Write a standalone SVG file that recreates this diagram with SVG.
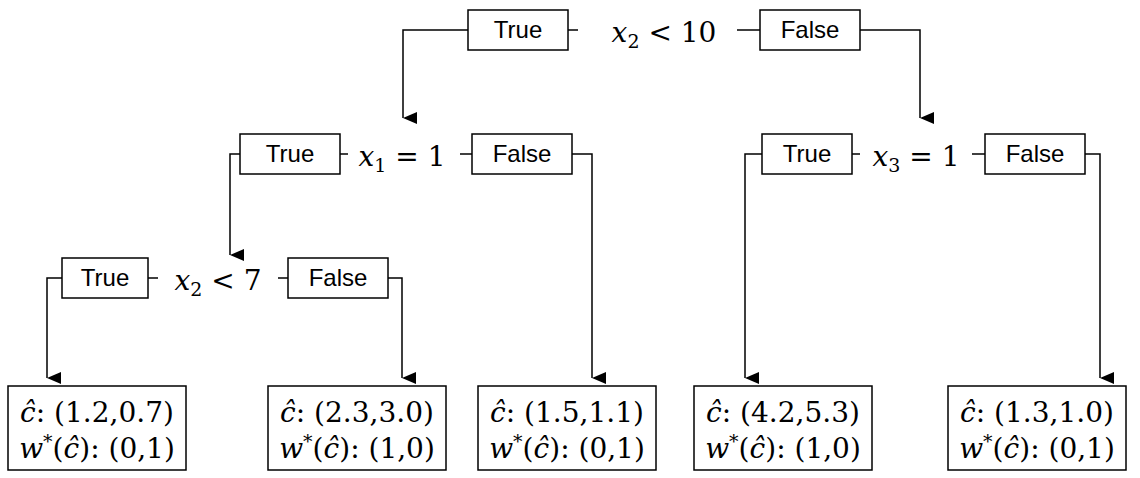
<svg xmlns="http://www.w3.org/2000/svg" width="1140" height="478" viewBox="0 0 1140 478">
<defs><marker id="ah" markerWidth="12" markerHeight="14" refX="6" refY="14" orient="auto-start-reverse" markerUnits="userSpaceOnUse" viewBox="0 0 12 14"><path d="M0,0 L12,0 L6,14 Z" fill="#000"/></marker>
<style>
.b{fill:#fff;stroke:#000;stroke-width:1.5}
.l{font-family:"Liberation Sans",Arial,sans-serif;font-size:24px;text-anchor:middle}
.m{font-family:"DejaVu Serif","Liberation Serif",serif;font-size:28px;text-anchor:middle}
.c{fill:none;stroke:#000;stroke-width:1.5}
i{font-style:italic}
</style></defs>
<rect width="1140" height="478" fill="#fff"/>
<g id="connectors" class="c">
<path d="M468,30 H403 V118" marker-end="url(#ah)"/>
<path d="M568,30 H578"/>
<path d="M737,30 H760"/>
<path d="M860,30 H920 V118" marker-end="url(#ah)"/>
<path d="M240,154 H230 V255" marker-end="url(#ah)"/>
<path d="M340,154 H348"/>
<path d="M460,154 H472"/>
<path d="M572,154 H592 V378" marker-end="url(#ah)"/>
<path d="M762,154 H745 V378" marker-end="url(#ah)"/>
<path d="M852,154 H860"/>
<path d="M972,154 H985"/>
<path d="M1085,154 H1100 V378" marker-end="url(#ah)"/>
<path d="M62,278 H47 V378" marker-end="url(#ah)"/>
<path d="M148,278 H158"/>
<path d="M278,278 H288"/>
<path d="M388,278 H402 V378" marker-end="url(#ah)"/>
</g>
<g id="n1"><rect class="b" x="468" y="10" width="100" height="40"/><text class="l" x="518" y="38">True</text>
<text class="m" x="664" y="42"><tspan font-style="italic">x</tspan><tspan font-size="19" dy="6">2</tspan><tspan dy="-6"> &lt; 10</tspan></text>
<rect class="b" x="760" y="10" width="100" height="40"/><text class="l" x="810" y="38">False</text></g>
<g id="n2"><rect class="b" x="240" y="134" width="100" height="40"/><text class="l" x="290" y="162">True</text>
<text class="m" x="402" y="166"><tspan font-style="italic">x</tspan><tspan font-size="19" dy="6">1</tspan><tspan dy="-6"> = 1</tspan></text>
<rect class="b" x="472" y="134" width="100" height="40"/><text class="l" x="522" y="162">False</text></g>
<g id="n3"><rect class="b" x="762" y="134" width="90" height="40"/><text class="l" x="807" y="162">True</text>
<text class="m" x="916" y="166"><tspan font-style="italic">x</tspan><tspan font-size="19" dy="6">3</tspan><tspan dy="-6"> = 1</tspan></text>
<rect class="b" x="985" y="134" width="100" height="40"/><text class="l" x="1035" y="162">False</text></g>
<g id="n4"><rect class="b" x="62" y="258" width="86" height="40"/><text class="l" x="105" y="286">True</text>
<text class="m" x="218" y="290"><tspan font-style="italic">x</tspan><tspan font-size="19" dy="6">2</tspan><tspan dy="-6"> &lt; 7</tspan></text>
<rect class="b" x="288" y="258" width="100" height="40"/><text class="l" x="338" y="286">False</text></g>
<g id="leaf1"><rect class="b" x="8" y="386" width="178" height="84"/><text class="m" x="97" y="422"><tspan font-style="italic">ĉ</tspan>: (1.2,0.7)</text><text class="m" x="97" y="458"><tspan font-style="italic">w</tspan><tspan font-size="19" dy="-10">*</tspan><tspan dy="10">(</tspan><tspan font-style="italic">ĉ</tspan>): (0,1)</text></g>
<g id="leaf2"><rect class="b" x="268" y="386" width="178" height="84"/><text class="m" x="357" y="422"><tspan font-style="italic">ĉ</tspan>: (2.3,3.0)</text><text class="m" x="357" y="458"><tspan font-style="italic">w</tspan><tspan font-size="19" dy="-10">*</tspan><tspan dy="10">(</tspan><tspan font-style="italic">ĉ</tspan>): (1,0)</text></g>
<g id="leaf3"><rect class="b" x="478" y="386" width="178" height="84"/><text class="m" x="567" y="422"><tspan font-style="italic">ĉ</tspan>: (1.5,1.1)</text><text class="m" x="567" y="458"><tspan font-style="italic">w</tspan><tspan font-size="19" dy="-10">*</tspan><tspan dy="10">(</tspan><tspan font-style="italic">ĉ</tspan>): (0,1)</text></g>
<g id="leaf4"><rect class="b" x="694" y="386" width="178" height="84"/><text class="m" x="783" y="422"><tspan font-style="italic">ĉ</tspan>: (4.2,5.3)</text><text class="m" x="783" y="458"><tspan font-style="italic">w</tspan><tspan font-size="19" dy="-10">*</tspan><tspan dy="10">(</tspan><tspan font-style="italic">ĉ</tspan>): (1,0)</text></g>
<g id="leaf5"><rect class="b" x="948" y="386" width="178" height="84"/><text class="m" x="1037" y="422"><tspan font-style="italic">ĉ</tspan>: (1.3,1.0)</text><text class="m" x="1037" y="458"><tspan font-style="italic">w</tspan><tspan font-size="19" dy="-10">*</tspan><tspan dy="10">(</tspan><tspan font-style="italic">ĉ</tspan>): (0,1)</text></g>
</svg>
